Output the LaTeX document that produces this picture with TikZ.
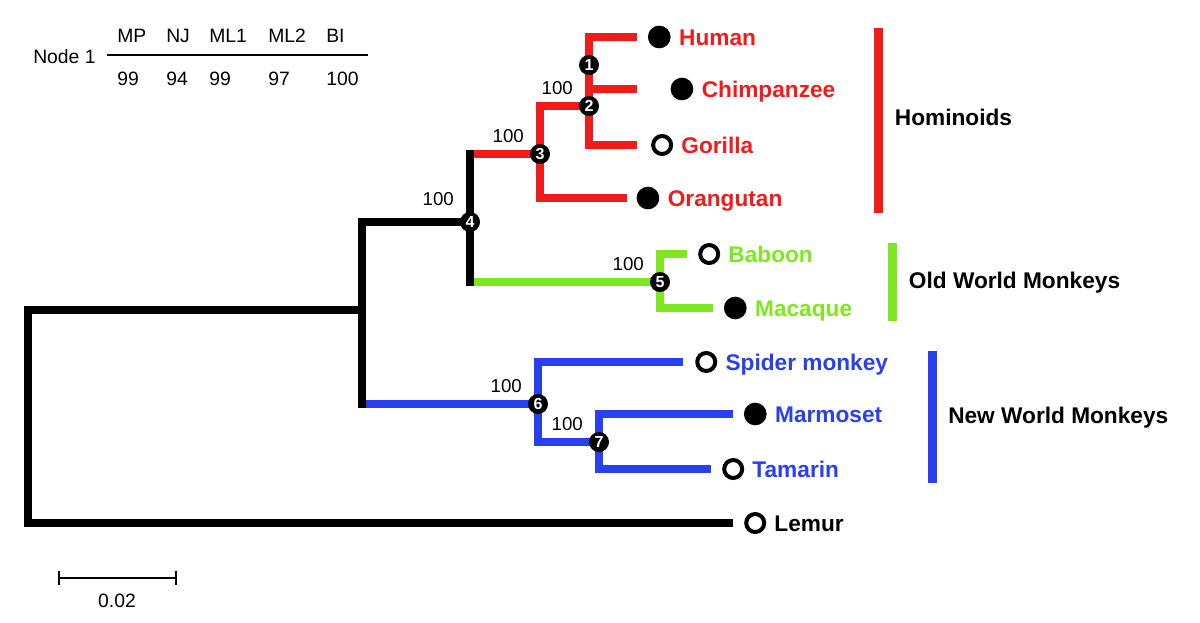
\documentclass[tikz,border=0pt]{standalone}
\usepackage{fontspec}
\setmainfont{Liberation Sans}
\usetikzlibrary{positioning,arrows.meta}

\definecolor{hominred}{RGB}{240,28,28}
\definecolor{oldgreen}{RGB}{125,232,32}
\definecolor{newblue}{RGB}{40,64,240}

\begin{document}
\begin{tikzpicture}[x=0.75pt,y=-0.75pt,
  branch/.style={line width=6pt,line join=miter},
  stem/.style={line width=6pt,line cap=rect},
  innernode/.style={circle,fill=black,minimum size=15pt,inner sep=0pt,text=white,font=\fontsize{12}{12}\selectfont\bfseries},
  boot/.style={inner sep=0pt,font=\fontsize{14}{14}\selectfont},
  fullmark/.style={circle,fill=black,minimum size=17pt,inner sep=0pt},
  openmark/.style={circle,draw=black,line width=3pt,minimum size=13.5pt,inner sep=0pt},
  taxon/.style={inner sep=0pt,text height=12.2pt,text depth=0pt,font=\fontsize{17}{17}\selectfont\bfseries},
  cladebar/.style={line width=6.75pt},
  tabtext/.style={inner sep=0pt,anchor=base west,font=\fontsize{14.5}{14.5}\selectfont}]

\useasboundingbox (0,0) rectangle (1200,622);

% Support table
\node[tabtext] (tabname) at (33,63) {Node 1};
\coordinate (tabL) at (107,55);
\coordinate (tabR) at (368,55);
\draw[line width=1.5pt] (tabL) -- (tabR);
\foreach \h/\v/\x [count=\i] in {MP/99/117, NJ/94/166, ML1/99/209, ML2/97/268, BI/100/326} {
    \node[tabtext] (head\i) at (\x,42) {\h};
    \node[tabtext] (val\i) at (\x,85) {\v};
}

% Internal nodes
\coordinate (root) at (28,416);
\coordinate (na) at (362,310);
\coordinate (n4) at (470,222);
\coordinate (n3) at (540,154);
\coordinate (n2) at (589,106);
\coordinate (n1) at (589,65);
\coordinate (n5) at (660,282);
\coordinate (n6) at (538,404);
\coordinate (n7) at (599,442);

% Branch tips
\coordinate (tHuman) at (637,37);
\coordinate (tChimp) at (637,89);
\coordinate (tGorilla) at (637,145);
\coordinate (tOrang) at (627,198);
\coordinate (tBaboon) at (687,254);
\coordinate (tMacaque) at (713,308);
\coordinate (tSpider) at (683,362);
\coordinate (tMarmoset) at (733,414);
\coordinate (tTamarin) at (711,469);
\coordinate (tLemur) at (733,523);

% Hominoids
\draw[branch,hominred] (n1) |- (tHuman);
\draw[branch,hominred] (n1) |- (tChimp);
\draw[branch,hominred] (n2) -- (n1);
\draw[branch,hominred] (n2) |- (tGorilla);
\draw[branch,hominred] (n3) |- (n2);
\draw[branch,hominred] (n3) |- (tOrang);
\draw[branch,hominred] (n4 |- n3) -- (n3);

% Old World Monkeys
\draw[branch,oldgreen] (n5) |- (tBaboon);
\draw[branch,oldgreen] (n5) |- (tMacaque);
\draw[branch,oldgreen] (n4 |- n5) -- (n5);

% New World Monkeys
\draw[branch,newblue] (n6) |- (tSpider);
\draw[branch,newblue] (n6) |- (n7);
\draw[branch,newblue] (n7) |- (tMarmoset);
\draw[branch,newblue] (n7) |- (tTamarin);
\draw[branch,newblue] (na |- n6) -- (n6);

% Backbone
\draw[stem] (n4 |- n3) -- (n4 |- n5);
\draw[branch] (na) |- (n4);
\draw[stem] (na) -- (na |- n6);
\draw[branch] (root) |- (na);
\draw[branch] (root) |- (tLemur);

% Numbered nodes and support values
\foreach \n in {1,...,7}
    \node[innernode] (b\n) at (n\n) {\n};
\foreach \n in {2,3,5,6,7}
    \node[boot,above left=3pt and 6.5pt of b\n] (s\n) {100};
\node[boot,above left=6.5pt and 6.5pt of b4] (s4) {100};

% Taxa
\foreach \t/\mk/\gap/\col/\txt in {Human/fullmark/8pt/hominred/Human,
    Chimp/fullmark/25pt/hominred/Chimpanzee,
    Gorilla/openmark/10.6pt/hominred/Gorilla,
    Orang/fullmark/7pt/hominred/Orangutan,
    Baboon/openmark/8.4pt/oldgreen/Baboon,
    Macaque/fullmark/8pt/oldgreen/Macaque,
    Spider/openmark/9.2pt/newblue/Spider monkey,
    Marmoset/fullmark/8pt/newblue/Marmoset,
    Tamarin/openmark/8.4pt/newblue/Tamarin,
    Lemur/openmark/8.4pt/black/Lemur} {
    \node[\mk,right=\gap of t\t] (m\t) {};
    \node[taxon,text=\col,right=6pt of m\t] (l\t) {\txt};
}

% Clade bars
\coordinate (hTop) at (878,28);
\coordinate (hBot) at (878,213);
\coordinate (oTop) at (892,243);
\coordinate (oBot) at (892,321);
\coordinate (wTop) at (932,351);
\coordinate (wBot) at (932,483);
\draw[cladebar,hominred] (hTop) -- (hBot) coordinate[midway] (hMid);
\draw[cladebar,oldgreen] (oTop) -- (oBot) coordinate[midway] (oMid);
\draw[cladebar,newblue] (wTop) -- (wBot) coordinate[midway] (wMid);
\node[taxon,yshift=2pt,right=12.5pt of hMid] (cHom) {Hominoids};
\node[taxon,yshift=1.5pt,right=12.5pt of oMid] (cOld) {Old World Monkeys};
\node[taxon,yshift=1.5pt,right=12pt of wMid] (cNew) {New World Monkeys};

% Scale bar
\coordinate (sL) at (58,578);
\coordinate (sR) at (177,578);
\draw[line width=1.5pt,{Bar[width=11pt]}-{Bar[width=11pt]}] (sL) -- (sR);
\node[tabtext,anchor=base] (scaletext) at (117,607) {0.02};

\end{tikzpicture}
\end{document}
